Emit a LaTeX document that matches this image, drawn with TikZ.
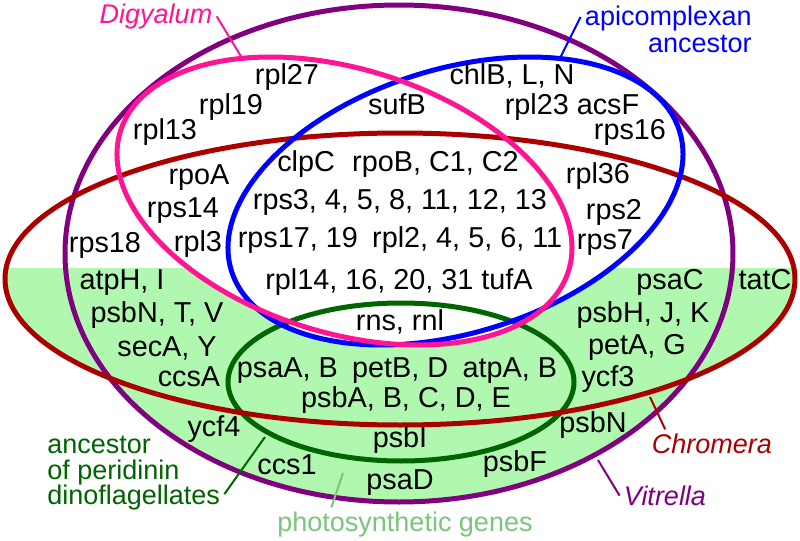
\documentclass[tikz,border=0pt]{standalone}
\usepackage{fontspec}
\setmainfont{Liberation Sans}
\definecolor{vitC}{HTML}{800080}
\definecolor{chrC}{HTML}{AA0000}
\definecolor{digC}{HTML}{FF1493}
\definecolor{apiC}{HTML}{0000FF}
\definecolor{dinoC}{HTML}{006400}
\definecolor{photoF}{HTML}{B0F7B0}
\definecolor{photoT}{HTML}{7DC47D}

\begin{document}
\begin{tikzpicture}[x=0.5pt,y=-0.5pt,
  set/.style={line width=2.5pt},
  lead/.style={line width=1pt},
  gene/.style={font=\fontsize{14.4}{17}\selectfont,inner sep=0pt,anchor=mid},
  lbl/.style={font=\fontsize{13.5}{13.5}\selectfont,inner sep=2pt},
  digE/.style={rotate around={-17.3:(344.5,201)}},
  apiE/.style={rotate around={17.3:(455.5,201)}}]
\useasboundingbox (0,0) rectangle (800,541);
\fill[white] (0,0) rectangle (800,541);
% photosynthetic part
\begin{scope}
\clip (0,268) rectangle (800,541);
\fill[photoF] (400,279) ellipse [x radius=395,y radius=146]
  (399,253.5) ellipse [x radius=334,y radius=248.5];
\end{scope}
\fill[white,digE] (344.5,201) ellipse [x radius=234.7,y radius=131.9];
\fill[white,apiE] (455.5,201) ellipse [x radius=234.7,y radius=131.9];
% the five sets
\draw[set,vitC] (399,253.5) ellipse [x radius=334,y radius=248.5];
\draw[set,dinoC] (401,382) ellipse [x radius=173,y radius=79];
\draw[set,chrC] (400,279) ellipse [x radius=395,y radius=146];
\draw[set,apiC,apiE] (455.5,201) ellipse [x radius=234.7,y radius=131.9];
\draw[set,digC,digE] (344.5,201) ellipse [x radius=234.7,y radius=131.9];

% genes
\node[gene] (rpl27) at (287,79) {rpl27};
\node[gene] (rpl19) at (231,109) {rpl19};
\node[gene] (rpl13) at (165,134) {rpl13};
\node[gene] (sufB) at (397,109) {sufB};
\node[gene] (chlB) at (512,79) {chlB, L, N};
\node[gene] (rpl23) at (572,109) {rpl23 acsF};
\node[gene] (rps16) at (630,134) {rps16};
\node[gene] (rpoA) at (199,179) {rpoA};
\node[gene] (core1) at (398,166) {clpC\hspace{0.6em}rpoB, C1, C2};
\node[gene] (rpl36) at (598,178) {rpl36};
\node[gene] (rps14) at (183,212.5) {rps14};
\node[gene] (core2) at (400,204) {rps3, 4, 5, 8, 11, 12, 13};
\node[gene] (rps2) at (614,214) {rps2};
\node[gene] (rps18) at (105,247.5) {rps18};
\node[gene] (rpl3) at (198,246) {rpl3};
\node[gene] (core3) at (400,242.5) {rps17, 19\enspace rpl2, 4, 5, 6, 11};
\node[gene] (rps7) at (605,244) {rps7};
\node[gene] (atpH) at (122,284) {atpH, I};
\node[gene] (core4) at (399,284) {rpl14, 16, 20, 31 tufA};
\node[gene] (psaC) at (670,284) {psaC};
\node[gene] (tatC) at (765,284) {tatC};
\node[gene] (psbNTV) at (157,317.5) {psbN, T, V};
\node[gene] (rns) at (400,325.5) {rns, rnl};
\node[gene] (psbHJK) at (643,317.5) {psbH, J, K};
\node[gene] (secA) at (167,351) {secA, Y};
\node[gene] (petA) at (637,349) {petA, G};
\node[gene] (ccsA) at (189,381) {ccsA};
\node[gene] (ycf3) at (608,381) {ycf3};
\node[gene] (phot1) at (397,372.5) {psaA, B\enspace petB, D\enspace atpA, B};
\node[gene] (phot2) at (406,402.5) {psbA, B, C, D, E};
\node[gene] (psbN) at (593,427.5) {psbN};
\node[gene] (ycf4) at (214,431) {ycf4};
\node[gene] (psbI) at (400,442.5) {psbI};
\node[gene] (ccs1) at (287,469) {ccs1};
\node[gene] (psbF) at (515,466) {psbF};
\node[gene] (psaD) at (400,484) {psaD};

% set labels
\node[lbl,digC,anchor=mid,font=\fontsize{13.5}{13.5}\selectfont\itshape] (dig) at (156,18) {Digyalum};
\node[lbl,apiC,anchor=north east,align=right] (api) at (756,1.5) {apicomplexan\\ancestor};
\node[lbl,chrC,anchor=mid,font=\fontsize{13.5}{13.5}\selectfont\itshape] (chr) at (712,448) {Chromera};
\node[lbl,vitC,anchor=mid,font=\fontsize{13.5}{13.5}\selectfont\itshape] (vit) at (665,500) {Vitrella};
\node[lbl,dinoC,anchor=north west,align=left,font={\fontsize{13.5}{12.6}\selectfont\lineskiplimit=-20pt\relax}] (anc) at (43,432) {ancestor\\of peridinin\\dinoflagellates};
\node[lbl,photoT,anchor=mid] (pho) at (405,526) {photosynthetic genes};

\coordinate (digpt) at (242,58);
\coordinate (apipt) at (560,58);
\coordinate (chrpt) at (650,397);
\coordinate (vitpt) at (598,460);
\coordinate (ancpt) at (265,437);
\coordinate (phopt) at (343,473);
\draw[lead,digC] (dig.east) -- (digpt);
\draw[lead,apiC] (api.172) -- (apipt);
\draw[lead,chrC] (chr.163) -- (chrpt);
\draw[lead,vitC] (vit.west) -- (vitpt);
\draw[lead,dinoC] (anc.-13) -- (ancpt);
\draw[lead,photoT] (pho.167) -- (phopt);
\end{tikzpicture}
\end{document}
